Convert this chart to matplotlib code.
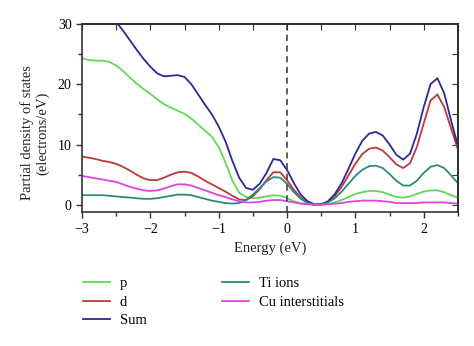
import numpy as np
import matplotlib
matplotlib.use("Agg")
import matplotlib.pyplot as plt
from matplotlib.ticker import MultipleLocator

plt.rcParams['font.family'] = ['Liberation Serif', 'DejaVu Serif']

energy = np.round(np.arange(-3.0, 2.51, 0.1), 2)

p_dos = [24.3, 24.0, 23.9, 23.9, 23.7, 23.1, 22.2, 21.1, 20.1, 19.2,
         18.4, 17.5, 16.7, 16.1, 15.6, 15.1, 14.3, 13.3, 12.3, 11.3,
         9.6, 7.0, 4.0, 2.0, 1.3, 1.1, 1.2, 1.4, 1.6, 1.5,
         1.1, 0.6, 0.3, 0.1, 0.0, 0.0, 0.1, 0.4, 0.8, 1.3,
         1.8, 2.1, 2.3, 2.3, 2.1, 1.7, 1.3, 1.2, 1.4, 1.8,
         2.2, 2.4, 2.4, 2.1, 1.6, 1.2]
d_dos = [8.0, 7.8, 7.6, 7.3, 7.1, 6.8, 6.3, 5.7, 5.0, 4.4,
         4.1, 4.1, 4.5, 5.0, 5.4, 5.5, 5.3, 4.7, 4.0, 3.4,
         2.8, 2.2, 1.5, 0.9, 0.8, 1.4, 2.6, 4.1, 5.4, 5.4,
         4.1, 2.5, 1.2, 0.4, 0.05, 0.1, 0.5, 1.5, 3.0, 4.9,
         6.8, 8.4, 9.3, 9.5, 9.0, 7.9, 6.7, 6.1, 6.9, 9.6,
         13.5, 17.3, 18.3, 16.2, 12.7, 9.2]
sum_dos = [37.5, 36.2, 34.8, 33.3, 31.8, 30.3, 28.9, 27.3, 25.7, 24.2,
           22.9, 21.8, 21.3, 21.4, 21.5, 21.2, 20.0, 18.3, 16.6, 15.0,
           13.0, 10.5, 7.3, 4.5, 2.8, 2.5, 3.5, 5.3, 7.6, 7.4,
           5.8, 3.6, 1.7, 0.6, 0.1, 0.1, 0.6, 1.8, 3.6, 6.0,
           8.5, 10.6, 11.8, 12.1, 11.5, 10.0, 8.3, 7.5, 8.5, 11.8,
           16.2, 20.0, 21.0, 18.5, 14.0, 9.8]
ti_dos = [1.6, 1.6, 1.6, 1.6, 1.5, 1.4, 1.3, 1.2, 1.1, 1.0,
          1.0, 1.1, 1.3, 1.5, 1.7, 1.7, 1.6, 1.3, 1.0, 0.7,
          0.5, 0.3, 0.2, 0.3, 0.8, 1.7, 2.8, 3.9, 4.6, 4.5,
          3.5, 2.1, 1.0, 0.3, 0.0, 0.1, 0.4, 1.1, 2.2, 3.5,
          4.8, 5.8, 6.4, 6.5, 6.1, 5.1, 4.0, 3.2, 3.2, 4.0,
          5.3, 6.3, 6.6, 6.1, 4.9, 3.6]
cu_dos = [4.8, 4.6, 4.4, 4.2, 4.0, 3.8, 3.4, 3.0, 2.7, 2.4,
          2.3, 2.4, 2.7, 3.1, 3.4, 3.4, 3.2, 2.8, 2.4, 2.0,
          1.6, 1.3, 0.9, 0.6, 0.4, 0.4, 0.5, 0.7, 0.8, 0.8,
          0.6, 0.4, 0.2, 0.1, 0.05, 0.05, 0.1, 0.2, 0.3, 0.5,
          0.6, 0.7, 0.7, 0.7, 0.6, 0.5, 0.3, 0.3, 0.3, 0.3,
          0.4, 0.4, 0.4, 0.4, 0.3, 0.2]

fig = plt.figure(figsize=(4.74, 3.46), dpi=100)
ax = fig.add_axes([0.173, 0.387, 0.793, 0.544])

lw = 1.3
ax.plot(energy, p_dos, color='#5fd85a', lw=lw, label='p')
ax.plot(energy, d_dos, color='#c0383a', lw=lw, label='d')
ax.plot(energy, sum_dos, color='#2a2a96', lw=lw, label='Sum')
ax.plot(energy, ti_dos, color='#2e8a7c', lw=lw, label='Ti ions')
ax.plot(energy, cu_dos, color='#e044de', lw=lw, label='Cu interstitials')
ax.axvline(0, color='#333333', lw=1.1, ls=(0, (4, 3)))

ax.set_xlim(-3, 2.5)
ax.set_ylim(-1.2, 30)
ax.xaxis.set_major_locator(MultipleLocator(1))
ax.xaxis.set_minor_locator(MultipleLocator(0.5))
ax.yaxis.set_major_locator(MultipleLocator(10))
ax.yaxis.set_minor_locator(MultipleLocator(5))
ax.tick_params(which='both', direction='out', top=False, right=False,
               labelsize=10, width=1.0, color='#333333')
ax.tick_params(which='major', length=4)
ax.tick_params(which='minor', length=3)
for s in ax.spines.values():
    s.set_linewidth(1.2)
    s.set_color('#333333')

# inward ticks on top and right
top = ax.secondary_xaxis('top')
top.xaxis.set_major_locator(MultipleLocator(0.5))
top.tick_params(direction='in', length=4, labeltop=False, color='#333333')
right = ax.secondary_yaxis('right')
right.yaxis.set_major_locator(MultipleLocator(5))
right.tick_params(direction='in', length=4, labelright=False, color='#333333')
top.spines['top'].set_linewidth(1.2)
right.spines['right'].set_linewidth(1.2)

ax.set_xlabel('Energy (eV)', fontsize=10.5, color='#222222')
ax.set_ylabel('Partial density of states\n(electrons/eV)', fontsize=10.5,
              color='#222222', linespacing=1.1)
ax.yaxis.set_label_coords(-0.088, 0.42)

fig.legend(loc='upper left', bbox_to_anchor=(0.148, 0.237), ncol=2,
           frameon=False, fontsize=10.5, handlelength=1.8,
           handletextpad=0.7, columnspacing=5.2, labelspacing=0.35)

fig.savefig('out.png', dpi=100)
